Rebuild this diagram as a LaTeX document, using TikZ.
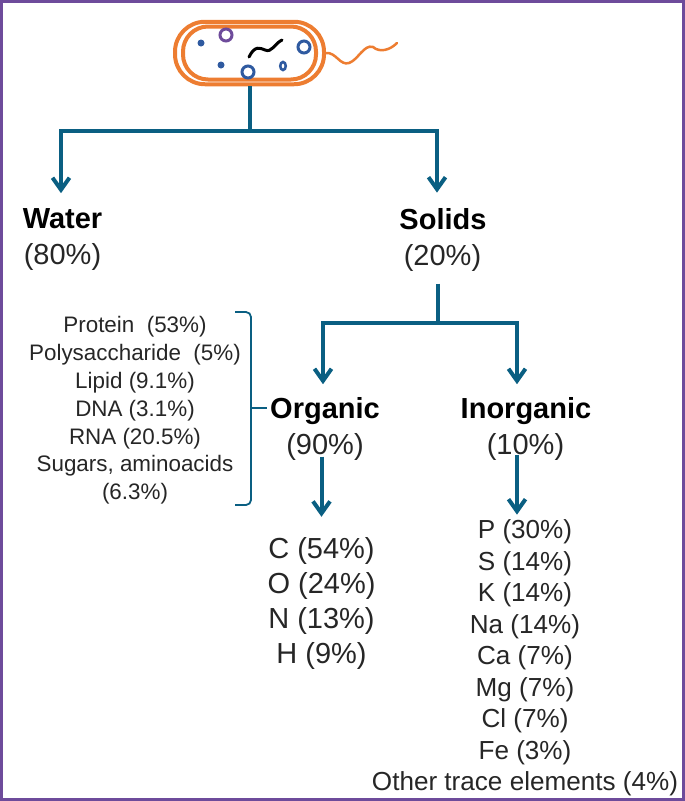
\documentclass[tikz,border=0pt]{standalone}
\usepackage{fontspec}
\setmainfont{Liberation Sans}
\usetikzlibrary{arrows.meta, shapes.geometric}
\definecolor{framepurple}{RGB}{110,75,155}
\definecolor{linkteal}{RGB}{10,95,130}
\definecolor{cellorange}{RGB}{237,125,49}
\definecolor{dotblue}{RGB}{47,90,160}
\tikzset{
  link/.style={draw=linkteal, line width=4pt},
  linkarrow/.style={link, -{Straight Barb[length=12pt, width=17pt, line width=4pt]}},
  head/.style={font=\fontsize{29}{34}\selectfont\bfseries, inner sep=0pt},
  share/.style={font=\fontsize{29}{34}\selectfont, inner sep=0pt, text=black!85},
  listing/.style={font=\fontsize{26.1}{31.5}\selectfont, inner sep=0pt, align=center, text=black!85},
  small/.style={font=\fontsize{22.4}{27.8}\selectfont, inner sep=0pt, align=center, text=black!85},
  ring/.style={circle, draw=#1, line width=3pt, inner sep=0pt},
  dot/.style={circle, fill=dotblue, inner sep=0pt, minimum size=7pt}
}
\begin{document}
\begin{tikzpicture}[x=1pt, y=-1pt]
\useasboundingbox (0,0) rectangle (685,801);
\draw[framepurple, line width=3pt] (1.5,1.5) rectangle (683.5,799.5);

% bacterium
\node[draw=cellorange, line width=4pt, rounded corners=30pt, minimum width=149pt, minimum height=62.5pt, inner sep=0pt] at (249.5,53) (wall) {};
\node[draw=cellorange, line width=4pt, rounded corners=25pt, minimum width=133pt, minimum height=53pt, inner sep=0pt] at (249.5,53) (cell) {};
\node[dot] at (201,43) (d1) {};
\node[dot] at (221,65) (d2) {};
\node[ring=framepurple, minimum size=12pt] at (226,35) (r1) {};
\node[ring=dotblue, minimum size=12pt] at (304,47) (r2) {};
\node[ring=dotblue, minimum size=12pt] at (248,72) (r3) {};
\node[ellipse, draw=dotblue, line width=2.6pt, inner sep=0pt, minimum width=5.5pt, minimum height=8pt] at (283,66) (r4) {};
\draw[black, line width=3pt, line cap=round] (249,57) .. controls (255,45) and (260,48) .. (265,50) .. controls (272,53) and (274,44) .. (282,40);
\draw[cellorange, line width=2.5pt, line cap=round] (wall.east) .. controls (336,52) and (340,66) .. (349,63) .. controls (358,60) and (364,44) .. (373,47) .. controls (380,53) and (390,50) .. (397,43);

% labels
\node[head] at (62.5,219) (water) {Water};
\node[share] at (62.5,256.5) (waterp) {(80\%)};
\node[head] at (443,219) (solids) {Solids};
\node[share] at (442.5,258) (solidsp) {(20\%)};
\node[head] at (325,411) (organic) {Organic};
\node[share] at (325,447) (organicp) {(90\%)};
\node[head] at (526,411) (inorganic) {Inorganic};
\node[share] at (525.5,447) (inorganicp) {(10\%)};
\node[small] at (135,410.5) (parts) {Protein\ \ (53\%)\\Polysaccharide\ \ (5\%)\\Lipid (9.1\%)\\DNA (3.1\%)\\RNA (20.5\%)\\Sugars,\ aminoacids\\(6.3\%)};
\node[font=\fontsize{29}{35}\selectfont, inner sep=0pt, align=center, text=black!85] at (321.5,603.5) (atoms) {C (54\%)\\O (24\%)\\N (13\%)\\H (9\%)};
\node[listing] at (525,658) (ions) {P (30\%)\\S (14\%)\\K (14\%)\\Na (14\%)\\Ca (7\%)\\Mg (7\%)\\Cl (7\%)\\Fe (3\%)\\Other trace elements (4\%)};

% connectors
\coordinate (top) at (250,131);
\coordinate (topl) at (61,131);
\coordinate (topr) at (437,131);
\coordinate (mid) at (438,323);
\coordinate (midl) at (323,323);
\coordinate (midr) at (517,323);
\draw[link] (wall.south -| top) -- (top);
\draw[linkarrow, shorten >=15.5pt] (top) -- (topl) -- (water.north -| topl);
\draw[linkarrow, shorten >=15.5pt] (top) -- (topr) -- (solids.north -| topr);
\draw[link, shorten <=12pt] (solidsp.south -| mid) -- (mid);
\draw[linkarrow, shorten >=13pt] (mid) -- (midl) -- (organic.north -| midl);
\draw[linkarrow, shorten >=13pt] (mid) -- (midr) -- (inorganic.north -| midr);
\draw[linkarrow, shorten <=-4pt, shorten >=20.5pt] (organicp.south -| atoms.north) -- (atoms.north);
\draw[linkarrow, shorten <=-6pt, shorten >=5pt] (inorganicp.south -| midr) -- (ions.north -| midr);

% brace
\coordinate (bracetop) at (235,312);
\coordinate (bracetip) at (251,408);
\coordinate (bracebot) at (235,505);
\draw[draw=linkteal, line width=1.8pt, rounded corners=5pt] (bracetop) -- (251,312) -- (bracetip) -- (251,505) -- (bracebot);
\draw[draw=linkteal, line width=1.8pt, shorten >=3pt] (bracetip) -- (organic.west |- bracetip);
\end{tikzpicture}
\end{document}
